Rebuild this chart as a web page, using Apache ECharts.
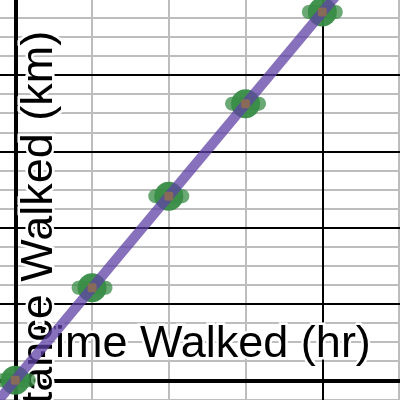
<!DOCTYPE html>
<html>
<head>
<meta charset="utf-8">
<script src="https://cdn.jsdelivr.net/npm/echarts@6/dist/echarts.min.js"></script>
<style>
html, body { margin: 0; padding: 0; background: #fff; }
#chart { width: 400px; height: 400px; }
</style>
</head>
<body>
<div id="chart"></div>
<script>
// walk data
const hours = [0, 1, 2, 3, 4];
const distance = [0, 4.85, 9.65, 14.5, 19.3];
// ends of the fitted line (it runs past the first and last point)
const fitHours = [-0.5, 4.5];
const fitDistance = [-2.4, 21.7];

const xTitle = 'Time Walked (hr)';
const yTitle = 'Distance Walked (km)';

const green = '#388c46';
const purple = '#6042a6';
const font = '"Liberation Sans", Arial, sans-serif';

let chart = echarts.init(document.getElementById('chart'));

const points = hours.map((h, i) => [h, distance[i]]);
const fit = fitHours.map((h, i) => [h, fitDistance[i]]);

// pill shape for the side blobs of each point
const pill = 'path://M6.5,0 H33.5 A6.5,6.5 0 0 1 33.5,13 H6.5 A6.5,6.5 0 0 1 6.5,0 Z';

const option = {
    animation: false,
    backgroundColor: '#fff',
    // the plot area runs past the page so the axes can start on whole ticks
    grid: {
        left: -291.7, right: -229.3, top: -1.3, bottom: -56.6,
        containLabel: false, outerBoundsMode: 'none'
    },
    xAxis: [
        {
            type: 'value', min: -4, max: 8, interval: 1, z: 0,
            axisLine: { show: false }, axisTick: { show: false }, axisLabel: { show: false },
            splitLine: { show: true, lineStyle: { color: '#bdbdbd', width: 2 } }
        },
        {
            type: 'value', min: -4, max: 8, interval: 4, z: 1,
            axisLine: { show: true, onZero: true, onZeroAxisIndex: 1, lineStyle: { color: '#000', width: 4 } },
            axisTick: { show: false }, axisLabel: { show: false },
            splitLine: { show: true, lineStyle: { color: '#000', width: 2 } }
        }
    ],
    yAxis: [
        {
            type: 'value', min: -4, max: 20, interval: 1, z: 0,
            axisLine: { show: false }, axisTick: { show: false }, axisLabel: { show: false },
            splitLine: { show: true, lineStyle: { color: '#bdbdbd', width: 2 } }
        },
        {
            type: 'value', min: -4, max: 20, interval: 4, z: 1,
            axisLine: { show: true, onZero: true, onZeroAxisIndex: 1, lineStyle: { color: '#000', width: 4 } },
            axisTick: { show: false }, axisLabel: { show: false },
            splitLine: { show: true, lineStyle: { color: '#000', width: 2 } }
        }
    ],
    graphic: [
        {
            type: 'text', x: 200, y: 345, z: 2,
            style: {
                text: xTitle, font: '45px ' + font, fill: '#000',
                align: 'center', verticalAlign: 'middle',
                stroke: '#fff', lineWidth: 5
            }
        },
        {
            type: 'text', x: 40, y: 250, rotation: Math.PI / 2, z: 3,
            style: {
                text: yTitle, font: '45px ' + font, fill: '#000',
                align: 'center', verticalAlign: 'middle',
                stroke: '#fff', lineWidth: 5
            }
        }
    ],
    series: [
        {
            type: 'scatter', data: points, symbol: pill, symbolSize: [41, 14], z: 4,
            itemStyle: { color: green, opacity: 0.75 }
        },
        {
            type: 'scatter', data: points, symbol: 'circle', symbolSize: 29, z: 5,
            itemStyle: { color: green, opacity: 0.95 }
        },
        {
            type: 'line', data: fit, showSymbol: false, z: 6,
            lineStyle: { color: purple, width: 10, opacity: 0.75 }
        },
        {
            type: 'scatter', data: points, symbol: 'roundRect', symbolSize: 9, z: 7,
            itemStyle: { color: '#9c7440', opacity: 0.7 }
        }
    ]
};

chart.setOption(option);
</script>
</body>
</html>
